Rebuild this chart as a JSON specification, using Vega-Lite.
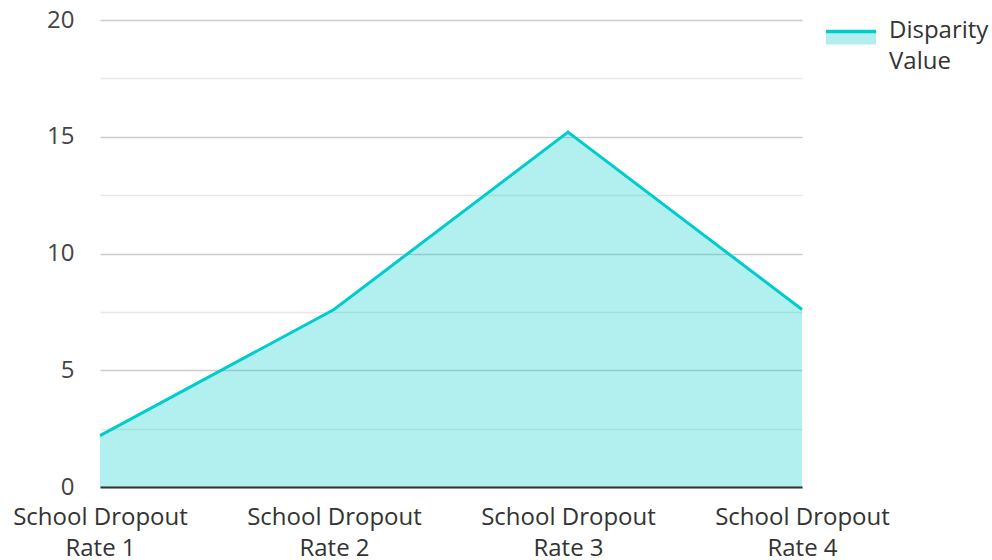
{
  "$schema": "https://vega.github.io/schema/vega-lite/v6.json",
  "autosize": {"type": "none"},
  "width": 702,
  "height": 467,
  "padding": {"left": 100, "top": 20, "right": 190, "bottom": 73},
  "background": "white",
  "config": {
    "font": "Open Sans",
    "view": {"stroke": null},
    "style": {"guide-label": {"lineHeight": 31}}
  },
  "data": {
    "values": [
      {"category": "School Dropout Rate 1", "value": 2.2, "series": "Disparity Value"},
      {"category": "School Dropout Rate 2", "value": 7.6, "series": "Disparity Value"},
      {"category": "School Dropout Rate 3", "value": 15.2, "series": "Disparity Value"},
      {"category": "School Dropout Rate 4", "value": 7.6, "series": "Disparity Value"}
    ]
  },
  "encoding": {
    "x": {
      "field": "category",
      "type": "nominal",
      "sort": null,
      "scale": {"type": "point", "padding": 0},
      "axis": {
        "title": null,
        "labelAngle": 0,
        "labelFontSize": 24,
        "labelColor": "#333333",
        "labelExpr": "['School Dropout', slice(datum.label, 15)]",
        "labelLineHeight": 31,
        "labelPadding": 18,
        "labelBaseline": "top",
        "ticks": false,
        "grid": false,
        "domainColor": "#333333",
        "domainWidth": 2,
        "zindex": 1
      }
    },
    "y": {
      "field": "value",
      "type": "quantitative",
      "scale": {"domain": [0, 20], "nice": false},
      "axis": {
        "title": null,
        "values": [0, 2.5, 5, 7.5, 10, 12.5, 15, 17.5, 20],
        "labelExpr": "datum.value % 5 === 0 ? datum.label : ''",
        "labelFontSize": 24,
        "labelColor": "#444444",
        "labelPadding": 26,
        "ticks": false,
        "domain": false,
        "gridColor": {"condition": {"test": "datum.value % 5 === 0", "value": "#cccccc"}, "value": "#e8e8e8"},
        "gridWidth": 1.5
      }
    }
  },
  "layer": [
    {
      "mark": {"type": "area", "color": "#00cccc", "opacity": 0.3}
    },
    {
      "mark": {"type": "line", "strokeWidth": 3},
      "encoding": {
        "stroke": {
          "field": "series",
          "type": "nominal",
          "scale": {"range": ["#00cccc"]},
          "legend": {
            "title": null,
            "orient": "none",
            "legendX": 724,
            "legendY": -9,
            "symbolType": "M-1,-0.26L1,-0.26L1,0.26L-1,0.26Z",
            "symbolSize": 2500,
            "symbolFillColor": "#b2eeee",
            "symbolStrokeWidth": 3.5,
            "symbolDash": [50, 1000],
            "symbolOpacity": 1,
            "labelFontSize": 24,
            "labelColor": "#333333",
            "labelExpr": "['Disparity', 'Value']",
            "labelOffset": 11,
            "labelBaseline": "alphabetic"
          }
        }
      }
    }
  ]
}
